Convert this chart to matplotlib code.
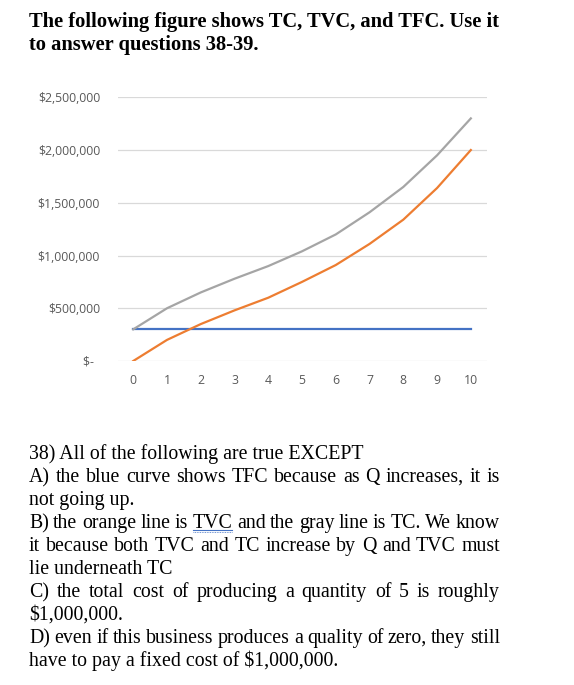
import math
import matplotlib
matplotlib.use("Agg")
import matplotlib.pyplot as plt
from matplotlib.lines import Line2D
from matplotlib.font_manager import FontProperties, findfont, get_font
from matplotlib.backends.backend_agg import get_hinting_flag
from matplotlib.ticker import FuncFormatter, MultipleLocator

W, H = 574, 685

# data
quantity = [0, 1, 2, 3, 4, 5, 6, 7, 8, 9, 10]
tfc = [300000] * 11
tvc = [0, 200000, 350000, 480000, 600000, 750000, 910000, 1110000, 1340000, 1640000, 2000000]
tc = [300000, 500000, 650000, 780000, 900000, 1040000, 1200000, 1410000, 1650000, 1950000, 2300000]

title_lines = ["The following figure shows TC, TVC, and TFC. Use it",
               "to answer questions 38-39."]

# (text, justified?)
body_lines = [
    ("38) All of the following are true EXCEPT", False),
    ("A) the blue curve shows TFC because as Q increases, it is", True),
    ("not going up.", False),
    ("B) the orange line is TVC and the gray line is TC. We know", True),
    ("it because both TVC and TC increase by Q and TVC must", True),
    ("lie underneath TC", False),
    ("C) the total cost of producing a quantity of 5 is roughly", True),
    ("$1,000,000.", False),
    ("D) even if this business produces a quality of zero, they still", True),
    ("have to pay a fixed cost of $1,000,000.", False),
]

fig = plt.figure(figsize=(W / 100, H / 100), dpi=100)
renderer = fig.canvas.get_renderer()


def fx(px):
    return px / W


def fy(py):
    return 1 - py / H


# title
for i, line in enumerate(title_lines):
    fig.text(fx(29), fy(27.3 + 22.8 * i), line, family="Liberation Serif",
             weight="bold", fontsize=14.8, va="baseline", ha="left")

# chart
ax = fig.add_axes([fx(117.7), fy(361), fx(486.7 - 117.7), (361 - 97.3) / H])
ax.plot(quantity, tfc, color="#4472C4", lw=1.6)
ax.plot(quantity, tvc, color="#ED7D31", lw=1.6)
ax.plot(quantity, tc, color="#A5A5A5", lw=1.6)
ax.set_xlim(-0.46, 10.47)
ax.set_ylim(0, 2500000)
ax.yaxis.set_major_locator(MultipleLocator(500000))
ax.xaxis.set_major_locator(MultipleLocator(1))
ax.yaxis.set_major_formatter(FuncFormatter(lambda v, p: "$-  " if v == 0 else f"${v:,.0f}"))
ax.grid(axis="y", color="#D9D9D9", lw=0.9)
ax.set_axisbelow(True)
for s in ax.spines.values():
    s.set_visible(False)
ax.tick_params(length=0, labelsize=8.8, labelcolor="#595959")
ax.tick_params(axis="y", pad=12.7)
ax.tick_params(axis="x", pad=9.3)
for lab in ax.get_xticklabels() + ax.get_yticklabels():
    lab.set_family("Open Sans")

# body text
body_prop = FontProperties(family="Liberation Serif", size=14.3)


def glyph_row(word, y):
    # pixel row the agg backend puts the baseline on (it rounds per text)
    font = get_font(findfont(body_prop))
    font.clear()
    font.set_size(body_prop.get_size_in_points(), 100)
    font.set_text(word, 0, flags=get_hinting_flag())
    desc = font.get_descent()
    hh = font.get_width_height()[1]
    h_img = hh // 64 + 2
    return round(y + desc / 64) + 1 - h_img + math.floor((hh - desc) / 64) + 1


def put(word, x, yb):
    y = yb + (yb + 1 - glyph_row(word, yb))
    return fig.text(fx(x), fy(y), word, fontproperties=body_prop, va="baseline", ha="left")


left, right = 29, 500
for i, (line, just) in enumerate(body_lines):
    yb = round(458.5 + 22.95 * i)
    if not just:
        put(line, left, yb)
        continue
    words = line.split(" ")
    widths = [fig.text(0, 0, w, fontproperties=body_prop).get_window_extent(renderer).width
              for w in words]
    for t in fig.texts[-len(words):]:
        t.remove()
    gap = (right - left - sum(widths)) / (len(words) - 1)
    x = left
    for w, wd in zip(words, widths):
        put(w, x, yb)
        if w == "TVC" and i == 3:
            # spell-check style underline
            yl = fy(yb + 3)
            fig.add_artist(Line2D([fx(x), fx(x + wd)], [yl, yl], color="#4472C4", lw=0.8))
            fig.add_artist(Line2D([fx(x), fx(x + wd)], [yl - 1.6 / H, yl - 1.6 / H],
                                  color="#4472C4", lw=0.6, ls=(0, (1, 1))))
        x += wd + gap

fig.savefig("out.png", dpi=100)
